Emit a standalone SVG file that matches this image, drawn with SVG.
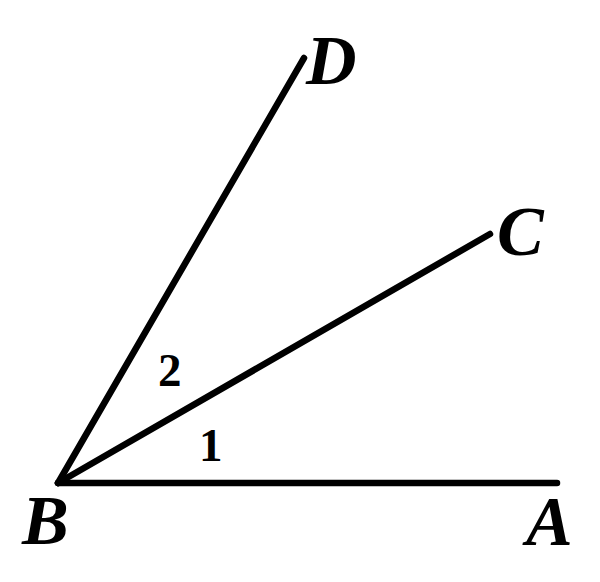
<svg xmlns="http://www.w3.org/2000/svg" width="600" height="582" viewBox="0 0 600 582">
<style>
.ray{stroke:#000;stroke-width:6.5;stroke-linecap:round;fill:none}
.pt{font-family:"Liberation Serif","Times New Roman",serif;font-weight:bold;font-style:italic;font-size:70px;fill:#000}
.num{font-family:"Liberation Serif","Times New Roman",serif;font-weight:bold;font-size:47px;fill:#000}
</style>
<rect width="600" height="582" fill="#fff"/>
<g id="connectors">
<line class="ray" x1="58" y1="483" x2="557" y2="483"/>
<line class="ray" x1="58" y1="483" x2="304" y2="58"/>
<line class="ray" x1="58" y1="483" x2="490" y2="234"/>
</g>
<g id="node-D"><text class="pt" x="306" y="84">D</text></g>
<g id="node-C"><text class="pt" x="497" y="255">C</text></g>
<g id="node-B"><text class="pt" x="22" y="544">B</text></g>
<g id="node-A"><text class="pt" x="526" y="545">A</text></g>
<g id="label-2"><text class="num" x="158" y="386">2</text></g>
<g id="label-1"><text class="num" x="199" y="461">1</text></g>
</svg>
